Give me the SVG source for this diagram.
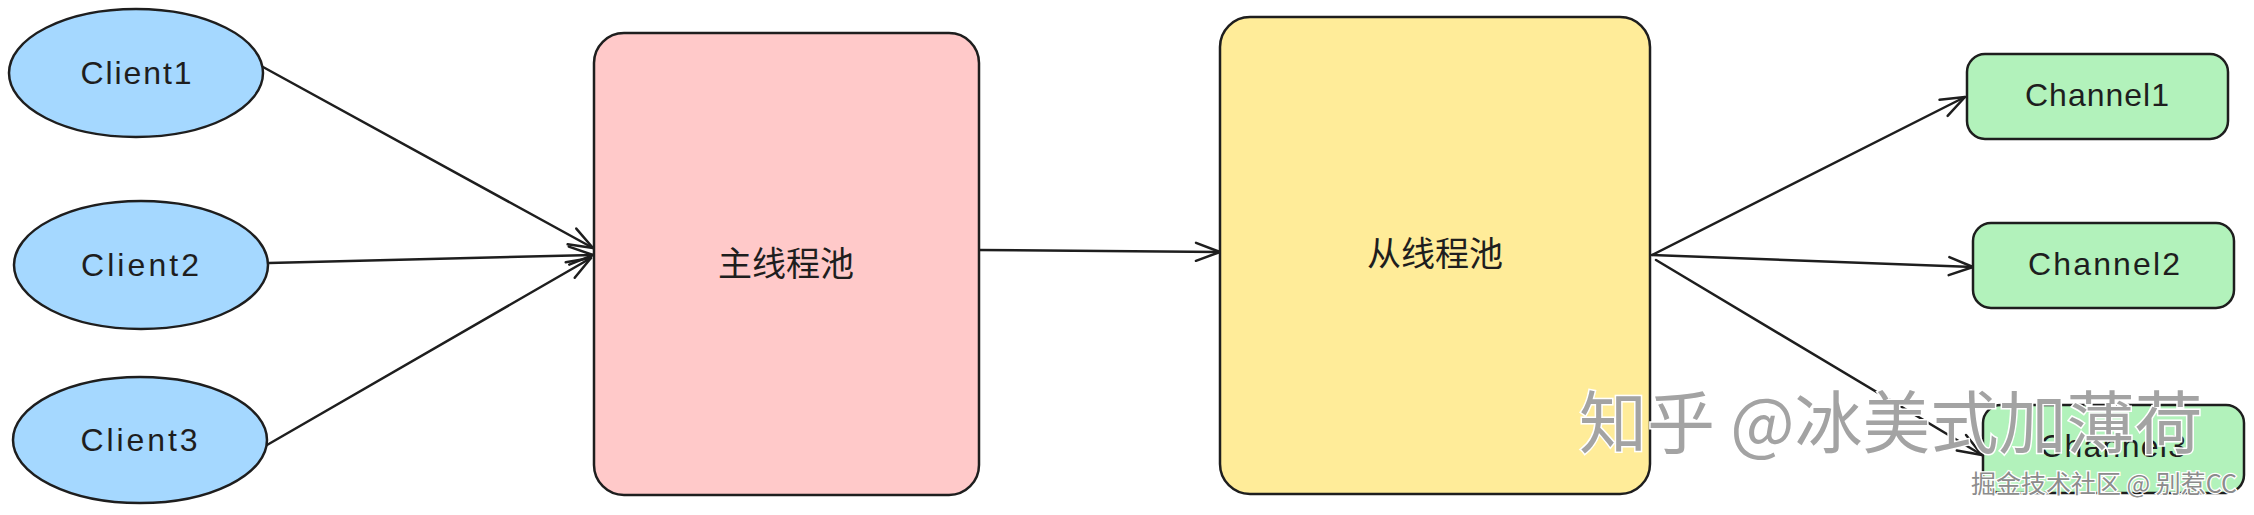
<svg xmlns="http://www.w3.org/2000/svg" width="2254" height="515" viewBox="0 0 2254 515">
<style>
.node{stroke:#1e1e1e;stroke-width:2.5;}
.lbl{font-family:"Liberation Sans","Noto Sans",sans-serif;font-size:32px;fill:#1e1e1e;text-anchor:middle;}
.cjk{font-family:"Noto Sans CJK SC","Noto Sans",sans-serif;font-size:34px;fill:#1e1e1e;text-anchor:middle;}
.conn{stroke:#1e1e1e;stroke-width:2.5;fill:none;stroke-linecap:round;marker-end:url(#arr);}
.wm{font-family:"Noto Sans CJK SC","Noto Sans",sans-serif;fill:#a3a3a3;stroke:#ffffff;stroke-width:3;paint-order:stroke;}
</style>
<defs>
<marker id="arr" markerUnits="userSpaceOnUse" markerWidth="40" markerHeight="40" viewBox="-30 -20 40 40" refX="0" refY="0" orient="auto">
<path d="M-24,-9 L0,0 L-24,9" fill="none" stroke="#1e1e1e" stroke-width="2.5" stroke-linecap="round" stroke-linejoin="round"/>
</marker>
</defs>
<rect width="2254" height="515" fill="#ffffff"/>
<g id="connectors">
<path class="conn" d="M263,67 L593,248"/>
<path class="conn" d="M269,263 L593,255"/>
<path class="conn" d="M267,445 L591,258"/>
<path class="conn" d="M978,250 L1220,252"/>
<path class="conn" d="M1652,255 L1965,97"/>
<path class="conn" d="M1652,255 L1973,267"/>
<path class="conn" d="M1656,260 L1982,455"/>
</g>
<g id="client1"><ellipse class="node" cx="136" cy="73" rx="127" ry="64" fill="#a5d8ff"/><text class="lbl" x="136" y="84" textLength="111">Client1</text></g>
<g id="client2"><ellipse class="node" cx="141" cy="265" rx="127" ry="64" fill="#a5d8ff"/><text class="lbl" x="140" y="276" textLength="118">Client2</text></g>
<g id="client3"><ellipse class="node" cx="140" cy="440" rx="127" ry="63" fill="#a5d8ff"/><text class="lbl" x="139" y="451" textLength="117">Client3</text></g>
<g id="main-pool"><rect class="node" x="594" y="33" width="385" height="462" rx="30" fill="#ffc9c9"/><text class="cjk" x="786" y="276">主线程池</text></g>
<g id="sub-pool"><rect class="node" x="1220" y="17" width="430" height="477" rx="30" fill="#ffec99"/><text class="cjk" x="1435" y="266">从线程池</text></g>
<g id="channel1"><rect class="node" x="1967" y="54" width="261" height="85" rx="18" fill="#b2f2bb"/><text class="lbl" x="2097" y="106" textLength="144">Channel1</text></g>
<g id="channel2"><rect class="node" x="1973" y="223" width="261" height="85" rx="18" fill="#b2f2bb"/><text class="lbl" x="2104" y="275" textLength="152">Channel2</text></g>
<g id="channel3"><rect class="node" x="1983" y="405" width="261" height="88" rx="18" fill="#b2f2bb"/><text class="lbl" x="2113" y="457" textLength="146">Channel3</text></g>
<g id="watermarks">
<text class="wm" x="1579" y="448" font-size="68">知乎 @冰美式加薄荷</text>
<text class="wm" x="1971" y="493" font-size="25" style="fill:#8c8c8c;stroke-width:2.5">掘金技术社区 @ 别惹CC</text>
</g>
</svg>
